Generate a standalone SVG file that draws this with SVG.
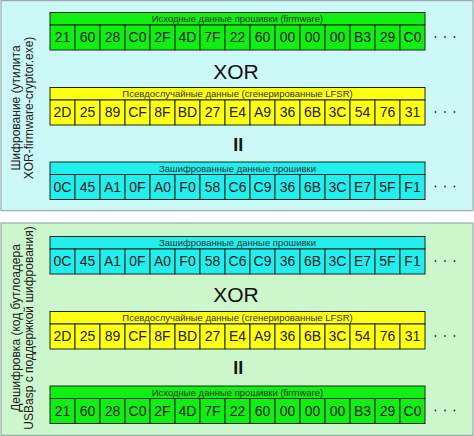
<svg xmlns="http://www.w3.org/2000/svg" width="474" height="436" viewBox="0 0 474 436">
<style>
.panel{stroke:#9aabab;stroke-width:1.2}
.g{fill:#11ee11}.y{fill:#ffff11}.c{fill:#22eeee}
.cell{stroke:#1a2a1a;stroke-width:1}
.hd{font-family:"Liberation Sans",Arial,sans-serif;font-size:9.5px;fill:#333;text-anchor:middle}
.v{font-family:"Liberation Sans",Arial,sans-serif;font-size:14px;fill:#222;text-anchor:middle}
.xor{font-family:"Liberation Sans",Arial,sans-serif;font-size:21px;fill:#111;text-anchor:middle}
.eq{font-family:"Liberation Sans",Arial,sans-serif;font-size:18px;font-weight:bold;fill:#111}
.lbl{font-family:"Liberation Sans",Arial,sans-serif;font-size:12px;fill:#222;text-anchor:middle}
.dot{fill:#333}
</style>
<defs>
<g id="cells">
<rect x="50" y="0" width="375" height="12.5" class="cell"/>
<rect x="50" y="12.5" width="25" height="25" class="cell"/><rect x="75" y="12.5" width="25" height="25" class="cell"/><rect x="100" y="12.5" width="25" height="25" class="cell"/><rect x="125" y="12.5" width="25" height="25" class="cell"/><rect x="150" y="12.5" width="25" height="25" class="cell"/><rect x="175" y="12.5" width="25" height="25" class="cell"/><rect x="200" y="12.5" width="25" height="25" class="cell"/><rect x="225" y="12.5" width="25" height="25" class="cell"/><rect x="250" y="12.5" width="25" height="25" class="cell"/><rect x="275" y="12.5" width="25" height="25" class="cell"/><rect x="300" y="12.5" width="25" height="25" class="cell"/><rect x="325" y="12.5" width="25" height="25" class="cell"/><rect x="350" y="12.5" width="25" height="25" class="cell"/><rect x="375" y="12.5" width="25" height="25" class="cell"/><rect x="400" y="12.5" width="25" height="25" class="cell"/>
<circle cx="435.5" cy="24.5" r="0.9" class="dot"/><circle cx="445" cy="24.5" r="0.9" class="dot"/><circle cx="454.5" cy="24.5" r="0.9" class="dot"/>
</g>
</defs>

<g id="panel-encrypt">
<rect x="1" y="0.6" width="472" height="210" fill="#ccf8f8" class="panel"/>
<text class="lbl" transform="translate(20,108) rotate(-90)">Шифрование (утилита</text>
<text class="lbl" transform="translate(33,108) rotate(-90)">XOR-firmware-cryptor.exe)</text>
</g>
<g id="panel-decrypt">
<rect x="1" y="223" width="472" height="212.4" fill="#ccf6cc" class="panel"/>
<text class="lbl" transform="translate(20,328) rotate(-90)">Дешифровка (код бутлоадера</text>
<text class="lbl" transform="translate(33,328) rotate(-90)">USBasp с поддержкой шифрования)</text>
</g>

<g id="top-original" transform="translate(0,12.5)">
<use href="#cells" class="g"/>
<text x="237.5" y="9.5" class="hd">Исходные данные прошивки (firmware)</text>
<text y="29.7" class="v"><tspan x="62.5">21</tspan><tspan x="87.5">60</tspan><tspan x="112.5">28</tspan><tspan x="137.5">C0</tspan><tspan x="162.5">2F</tspan><tspan x="187.5">4D</tspan><tspan x="212.5">7F</tspan><tspan x="237.5">22</tspan><tspan x="262.5">60</tspan><tspan x="287.5">00</tspan><tspan x="312.5">00</tspan><tspan x="337.5">00</tspan><tspan x="362.5">B3</tspan><tspan x="387.5">29</tspan><tspan x="412.5">C0</tspan></text>
</g>
<g id="top-xor"><text x="236" y="78.5" class="xor">XOR</text></g>
<g id="top-lfsr" transform="translate(0,87.5)">
<use href="#cells" class="y"/>
<text x="237.5" y="9.5" class="hd">Псевдослучайные данные (сгенерированные LFSR)</text>
<text y="29.7" class="v"><tspan x="62.5">2D</tspan><tspan x="87.5">25</tspan><tspan x="112.5">89</tspan><tspan x="137.5">CF</tspan><tspan x="162.5">8F</tspan><tspan x="187.5">BD</tspan><tspan x="212.5">27</tspan><tspan x="237.5">E4</tspan><tspan x="262.5">A9</tspan><tspan x="287.5">36</tspan><tspan x="312.5">6B</tspan><tspan x="337.5">3C</tspan><tspan x="362.5">54</tspan><tspan x="387.5">76</tspan><tspan x="412.5">31</tspan></text>
</g>
<g id="top-eq"><text x="233.3" y="150.5" class="eq">II</text></g>
<g id="top-encrypted" transform="translate(0,162)">
<use href="#cells" class="c"/>
<text x="237.5" y="9.5" class="hd">Зашифрованные данные прошивки</text>
<text y="29.7" class="v"><tspan x="62.5">0C</tspan><tspan x="87.5">45</tspan><tspan x="112.5">A1</tspan><tspan x="137.5">0F</tspan><tspan x="162.5">A0</tspan><tspan x="187.5">F0</tspan><tspan x="212.5">58</tspan><tspan x="237.5">C6</tspan><tspan x="262.5">C9</tspan><tspan x="287.5">36</tspan><tspan x="312.5">6B</tspan><tspan x="337.5">3C</tspan><tspan x="362.5">E7</tspan><tspan x="387.5">5F</tspan><tspan x="412.5">F1</tspan></text>
</g>

<g id="bottom-encrypted" transform="translate(0,236.5)">
<use href="#cells" class="c"/>
<text x="237.5" y="9.5" class="hd">Зашифрованные данные прошивки</text>
<text y="29.7" class="v"><tspan x="62.5">0C</tspan><tspan x="87.5">45</tspan><tspan x="112.5">A1</tspan><tspan x="137.5">0F</tspan><tspan x="162.5">A0</tspan><tspan x="187.5">F0</tspan><tspan x="212.5">58</tspan><tspan x="237.5">C6</tspan><tspan x="262.5">C9</tspan><tspan x="287.5">36</tspan><tspan x="312.5">6B</tspan><tspan x="337.5">3C</tspan><tspan x="362.5">E7</tspan><tspan x="387.5">5F</tspan><tspan x="412.5">F1</tspan></text>
</g>
<g id="bottom-xor"><text x="236" y="301.5" class="xor">XOR</text></g>
<g id="bottom-lfsr" transform="translate(0,311.5)">
<use href="#cells" class="y"/>
<text x="237.5" y="9.5" class="hd">Псевдослучайные данные (сгенерированные LFSR)</text>
<text y="29.7" class="v"><tspan x="62.5">2D</tspan><tspan x="87.5">25</tspan><tspan x="112.5">89</tspan><tspan x="137.5">CF</tspan><tspan x="162.5">8F</tspan><tspan x="187.5">BD</tspan><tspan x="212.5">27</tspan><tspan x="237.5">E4</tspan><tspan x="262.5">A9</tspan><tspan x="287.5">36</tspan><tspan x="312.5">6B</tspan><tspan x="337.5">3C</tspan><tspan x="362.5">54</tspan><tspan x="387.5">76</tspan><tspan x="412.5">31</tspan></text>
</g>
<g id="bottom-eq"><text x="233.3" y="374" class="eq">II</text></g>
<g id="bottom-original" transform="translate(0,386)">
<use href="#cells" class="g"/>
<text x="237.5" y="9.5" class="hd">Исходные данные прошивки (firmware)</text>
<text y="29.7" class="v"><tspan x="62.5">21</tspan><tspan x="87.5">60</tspan><tspan x="112.5">28</tspan><tspan x="137.5">C0</tspan><tspan x="162.5">2F</tspan><tspan x="187.5">4D</tspan><tspan x="212.5">7F</tspan><tspan x="237.5">22</tspan><tspan x="262.5">60</tspan><tspan x="287.5">00</tspan><tspan x="312.5">00</tspan><tspan x="337.5">00</tspan><tspan x="362.5">B3</tspan><tspan x="387.5">29</tspan><tspan x="412.5">C0</tspan></text>
</g>
<g id="connectors"/>
</svg>
